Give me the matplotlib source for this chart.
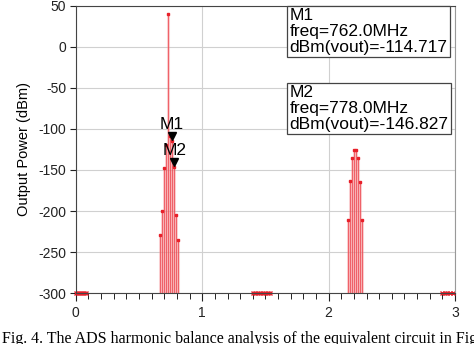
import matplotlib
matplotlib.use("Agg")
import matplotlib.pyplot as plt
import numpy as np

plt.rcParams["font.family"] = ["Liberation Sans", "DejaVu Sans"]
plt.rcParams["axes.unicode_minus"] = False

# fundamental cluster (GHz, dBm)
freq_1 = [0.666, 0.682, 0.698, 0.714, 0.730, 0.746, 0.762, 0.778, 0.794, 0.810]
pout_1 = [-229, -200, -148, -120, 40, -108, -114.717, -146.827, -205, -235]
# third-harmonic cluster
freq_3 = [2.150, 2.166, 2.182, 2.198, 2.214, 2.230, 2.246, 2.262]
pout_3 = [-211, -164, -135, -126, -126, -135, -165, -211]
# products below the floor, drawn on -300
freq_floor = [0.00, 0.016, 0.032, 0.048, 0.064, 0.080,
              1.40, 1.42, 1.44, 1.46, 1.48, 1.50, 1.52, 1.54,
              2.90, 2.92, 2.94, 2.96, 2.98]
floor = -300

markers = [("M1", 0.762, -114.717), ("M2", 0.778, -146.827)]
x_ticks = [0, 1, 2, 3]
y_ticks = [50, 0, -50, -100, -150, -200, -250, -300]

fig = plt.figure(figsize=(4.74, 3.44), dpi=100)
ax = fig.add_axes([0.160, 0.148, 0.800, 0.835])

red = "#e8202a"
for f, p in zip(freq_1 + freq_3, pout_1 + pout_3):
    ax.vlines(f, floor, p, color=red, lw=0.9, alpha=0.85)
    ax.vlines(f, floor, p, color="#f8a0a4", lw=2.2, alpha=0.35)
ax.plot(freq_1 + freq_3, pout_1 + pout_3, ls="none", marker="s", ms=1.6,
        color=red, mec=red)
ax.plot(freq_floor, [floor] * len(freq_floor), ls="none", marker="x", ms=2.5,
        mew=1.0, color=red, clip_on=False)

for name, f, p in markers:
    ax.plot(f, p + 6, marker="v", ms=5.5, color="black", ls="none")
    ax.text(f, p + 11, name, ha="center", va="bottom", fontsize=12.5)

ax.set_xlim(0, 3)
ax.set_ylim(-300, 50)
ax.set_xticks(x_ticks)
ax.set_xticks(np.arange(0, 3.01, 0.1), minor=True)
ax.set_yticks(y_ticks)
ax.tick_params(axis="both", labelsize=10, colors="#222222", pad=3)
ax.tick_params(axis="x", which="major", length=6, direction="out")
ax.tick_params(axis="x", which="minor", length=4, direction="out")
ax.tick_params(axis="y", length=4)
ax.grid(True, color="#d0d0d0", lw=0.8)
ax.set_axisbelow(True)
for s in ["left", "bottom", "top"]:
    ax.spines[s].set_color("#444444")
ax.spines["right"].set_color("#999999")
ax.set_ylabel("Output Power (dBm)", fontsize=10.5, labelpad=5)

box = dict(boxstyle="square,pad=0.12", facecolor="white", edgecolor="#444444", lw=0.9)
ax.text(1.69, 47, "M1\nfreq=762.0MHz\ndBm(vout)=-114.717", fontsize=12.5,
        va="top", ha="left", linespacing=1.05, bbox=box)
ax.text(1.69, -47, "M2\nfreq=778.0MHz\ndBm(vout)=-146.827", fontsize=12.5,
        va="top", ha="left", linespacing=1.05, bbox=box)

fig.text(0.005, -0.008, "Fig. 4. The ADS harmonic balance analysis of the equivalent circuit in Fig",
         fontsize=11.5, family="Liberation Serif", va="bottom", ha="left")

fig.savefig("out.png", dpi=100)
